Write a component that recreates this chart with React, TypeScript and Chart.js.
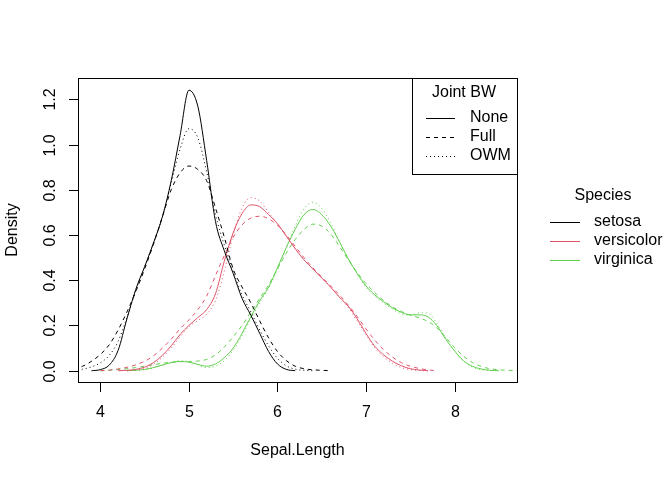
import { useEffect, useRef } from "react";
import { Chart, type ChartConfiguration } from "chart.js/auto";

// shared x grid (Sepal.Length)
const xGrid = [
  3.6, 3.7, 3.8, 3.9, 4.0, 4.1, 4.2, 4.3, 4.4, 4.5, 4.6, 4.7, 4.8, 4.9,
  5.0, 5.1, 5.2, 5.3, 5.4, 5.5, 5.6, 5.7, 5.8, 5.9, 6.0, 6.1, 6.2, 6.3,
  6.4, 6.5, 6.6, 6.7, 6.8, 6.9, 7.0, 7.1, 7.2, 7.3, 7.4, 7.5, 7.6, 7.7,
  7.8, 7.9, 8.0, 8.1, 8.2, 8.3, 8.4, 8.5, 8.6, 8.7, 8.8,
];

const _ = null;

// setosa
const setosaNone = [
  _, _, _, 0, 0.005, 0.025, 0.09, 0.23, 0.36, 0.46, 0.565, 0.68, 0.84, 1.04,
  1.24, 1.17, 0.93, 0.66, 0.53, 0.43, 0.32, 0.245, 0.165, 0.085, 0.03, 0.006, 0, _,
  _, _, _, _, _, _, _, _, _, _, _, _, _, _,
  _, _, _, _, _, _, _, _, _, _, _,
];
const setosaFull = [
  0.004, 0.009, 0.02, 0.042, 0.072, 0.115, 0.18, 0.26, 0.35, 0.45, 0.56, 0.68, 0.8, 0.875,
  0.905, 0.89, 0.84, 0.72, 0.59, 0.45, 0.37, 0.3, 0.22, 0.145, 0.085, 0.045, 0.02, 0.009,
  0.004, 0.002, 0, _, _, _, _, _, _, _, _, _, _, _,
  _, _, _, _, _, _, _, _, _, _, _,
];
const setosaOWM = [
  0.001, 0.003, 0.007, 0.017, 0.035, 0.068, 0.13, 0.235, 0.355, 0.46, 0.565, 0.68, 0.83, 0.98,
  1.07, 1.03, 0.88, 0.69, 0.555, 0.44, 0.335, 0.26, 0.18, 0.11, 0.055, 0.022, 0.007, 0.002,
  0, _, _, _, _, _, _, _, _, _, _, _, _, _,
  _, _, _, _, _, _, _, _, _, _, _,
];

// versicolor
const versicolorNone = [
  _, _, _, _, _, _, 0, 0.002, 0.006, 0.016, 0.036, 0.068, 0.11, 0.16,
  0.2, 0.235, 0.27, 0.34, 0.485, 0.61, 0.695, 0.733, 0.725, 0.69, 0.65, 0.595, 0.54, 0.49,
  0.45, 0.41, 0.37, 0.325, 0.285, 0.23, 0.165, 0.108, 0.07, 0.042, 0.022, 0.009, 0.003, 0,
  _, _, _, _, _, _, _, _, _, _, _,
];
const versicolorFull = [
  _, _, _, _, 0, 0.003, 0.008, 0.015, 0.026, 0.042, 0.066, 0.1, 0.14, 0.185,
  0.225, 0.27, 0.33, 0.42, 0.51, 0.59, 0.645, 0.675, 0.683, 0.672, 0.643, 0.6, 0.55, 0.5,
  0.455, 0.415, 0.375, 0.335, 0.29, 0.24, 0.185, 0.135, 0.093, 0.06, 0.036, 0.02, 0.01, 0.004,
  0, _, _, _, _, _, _, _, _, _, _,
];
const versicolorOWM = [
  _, _, _, _, _, _, _, 0, 0.003, 0.01, 0.028, 0.06, 0.1, 0.15,
  0.195, 0.222, 0.25, 0.31, 0.44, 0.6, 0.72, 0.765, 0.75, 0.7, 0.65, 0.595, 0.54, 0.49,
  0.45, 0.41, 0.37, 0.325, 0.28, 0.22, 0.16, 0.1, 0.062, 0.033, 0.014, 0.005, 0.001, 0,
  _, _, _, _, _, _, _, _, _, _, _,
];

// virginica
const virginicaNone = [
  _, _, _, _, _, _, _, 0, 0.002, 0.006, 0.014, 0.025, 0.036, 0.041,
  0.038, 0.028, 0.02, 0.03, 0.058, 0.1, 0.165, 0.24, 0.31, 0.37, 0.455, 0.545, 0.625, 0.69,
  0.713, 0.69, 0.64, 0.57, 0.495, 0.43, 0.375, 0.335, 0.305, 0.278, 0.258, 0.247, 0.247, 0.238,
  0.2, 0.14, 0.088, 0.045, 0.02, 0.008, 0.002, 0, _, _, _,
];
const virginicaFull = [
  _, _, _, _, 0, 0.002, 0.005, 0.009, 0.014, 0.02, 0.027, 0.033, 0.037, 0.04,
  0.041, 0.043, 0.05, 0.07, 0.105, 0.15, 0.2, 0.26, 0.32, 0.38, 0.45, 0.52, 0.58, 0.625,
  0.648, 0.64, 0.605, 0.55, 0.49, 0.435, 0.385, 0.345, 0.31, 0.282, 0.262, 0.246, 0.234, 0.218,
  0.19, 0.148, 0.103, 0.065, 0.037, 0.019, 0.009, 0.004, 0.002, 0.001, 0,
];
const virginicaOWM = [
  _, _, _, _, _, _, _, 0, 0.002, 0.005, 0.013, 0.025, 0.038, 0.044,
  0.04, 0.026, 0.014, 0.02, 0.045, 0.09, 0.155, 0.23, 0.3, 0.365, 0.447, 0.545, 0.64, 0.715,
  0.745, 0.718, 0.655, 0.57, 0.495, 0.43, 0.37, 0.33, 0.3, 0.272, 0.252, 0.245, 0.256, 0.255,
  0.21, 0.143, 0.088, 0.042, 0.016, 0.005, 0.001, 0, _, _, _,
];

const species = ["setosa", "versicolor", "virginica"];
const speciesColors = ["#000000", "#DF536B", "#61D04F"];
const bwMethods = ["None", "Full", "OWM"];
const bwDashes = [[], [4, 4], [1, 3]];
const curves = [
  [setosaNone, setosaFull, setosaOWM],
  [versicolorNone, versicolorFull, versicolorOWM],
  [virginicaNone, virginicaFull, virginicaOWM],
];

const xTicks = [4, 5, 6, 7, 8];
const yTicks = [0, 0.2, 0.4, 0.6, 0.8, 1.0, 1.2];
const yTickLabels = ["0.0", "0.2", "0.4", "0.6", "0.8", "1.0", "1.2"];

const FONT = '16px "Liberation Sans", Arial, Helvetica, sans-serif';

const rAxesPlugin = {
  id: "rAxes",
  afterDraw(chart: Chart) {
    const { ctx, chartArea: a } = chart;
    const xs = chart.scales.x;
    const ys = chart.scales.y;
    ctx.save();
    ctx.strokeStyle = "#000";
    ctx.fillStyle = "#000";
    ctx.lineWidth = 1;
    ctx.setLineDash([]);
    // box
    ctx.strokeRect(a.left + 0.5, a.top + 0.5, a.right - a.left, a.bottom - a.top);
    ctx.font = FONT;
    // x axis
    ctx.textAlign = "center";
    ctx.textBaseline = "alphabetic";
    xTicks.forEach((v) => {
      const px = Math.round(xs.getPixelForValue(v)) + 0.5;
      ctx.beginPath();
      ctx.moveTo(px, a.bottom + 0.5);
      ctx.lineTo(px, a.bottom + 10);
      ctx.stroke();
      ctx.fillText(String(v), px, a.bottom + 34.5);
    });
    ctx.fillText("Sepal.Length", (a.left + a.right) / 2, a.bottom + 72.5);
    // y axis
    yTicks.forEach((v, i) => {
      const py = Math.round(ys.getPixelForValue(v)) + 0.5;
      ctx.beginPath();
      ctx.moveTo(a.left + 0.5, py);
      ctx.lineTo(a.left - 9, py);
      ctx.stroke();
      ctx.save();
      ctx.translate(a.left - 23, py);
      ctx.rotate(-Math.PI / 2);
      ctx.fillText(yTickLabels[i], 0, 0);
      ctx.restore();
    });
    ctx.save();
    ctx.translate(a.left - 61.5, (a.top + a.bottom) / 2);
    ctx.rotate(-Math.PI / 2);
    ctx.fillText("Density", 0, 0);
    ctx.restore();

    // legend: Joint BW
    const lx0 = 412.5;
    ctx.strokeRect(lx0, a.top + 0.5, a.right - lx0 + 0.5, 96);
    ctx.textAlign = "center";
    ctx.textBaseline = "middle";
    ctx.fillText("Joint BW", 464, 92.5);
    ctx.textAlign = "left";
    bwMethods.forEach((m, i) => {
      const y = 117.5 + i * 19.2;
      ctx.setLineDash(bwDashes[i]);
      ctx.beginPath();
      ctx.moveTo(426, Math.round(y) + 0.5);
      ctx.lineTo(455, Math.round(y) + 0.5);
      ctx.stroke();
      ctx.setLineDash([]);
      ctx.fillText(m, 470, y);
    });

    // legend: Species
    ctx.textAlign = "center";
    ctx.fillText("Species", 603, 196);
    ctx.textAlign = "left";
    species.forEach((s, i) => {
      const y = 221.5 + i * 19.2;
      ctx.strokeStyle = speciesColors[i];
      ctx.beginPath();
      ctx.moveTo(550, Math.round(y) + 0.5);
      ctx.lineTo(580, Math.round(y) + 0.5);
      ctx.stroke();
      ctx.fillText(s, 594, y);
    });
    ctx.restore();
  },
};

export default function App() {
  const canvasRef = useRef<HTMLCanvasElement>(null);
  const chartRef = useRef<Chart<"line"> | null>(null);

  useEffect(() => {
    if (!canvasRef.current) return;
    const ctx = canvasRef.current.getContext("2d");
    if (!ctx) return;
    if (chartRef.current) chartRef.current.destroy();

    const datasets = [] as any[];
    curves.forEach((group, si) => {
      group.forEach((ys, bi) => {
        datasets.push({
          label: `${species[si]} ${bwMethods[bi]}`,
          data: xGrid
            .map((x, i) => ({ x, y: ys[i] }))
            .filter((p) => p.y !== null),
          borderColor: speciesColors[si],
          borderWidth: 1,
          borderDash: bwDashes[bi],
          pointRadius: 0,
          cubicInterpolationMode: "monotone",
          fill: false,
        });
      });
    });

    const config: ChartConfiguration<"line"> = {
      type: "line",
      data: { datasets },
      options: {
        responsive: true,
        maintainAspectRatio: false,
        animation: false,
        layout: { padding: { left: 78, top: 78, right: 155, bottom: 98 } },
        scales: {
          x: { type: "linear", min: 3.747, max: 8.706, display: false },
          y: { type: "linear", min: -0.0498, max: 1.294, display: false },
        },
        plugins: {
          legend: { display: false },
          tooltip: { enabled: false },
        },
        events: [],
      },
      plugins: [rAxesPlugin],
    };

    chartRef.current = new Chart(ctx, config);
    return () => {
      chartRef.current?.destroy();
      chartRef.current = null;
    };
  }, []);

  return (
    <div
      style={{
        position: "fixed",
        left: 0,
        top: 0,
        width: 672,
        height: 480,
        background: "#fff",
      }}
    >
      <canvas ref={canvasRef} />
    </div>
  );
}
